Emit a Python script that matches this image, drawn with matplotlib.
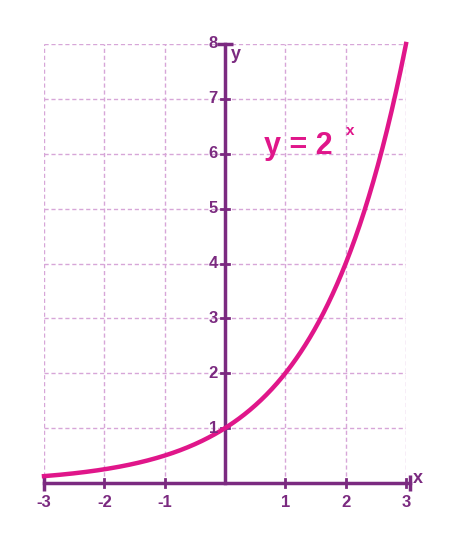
import numpy as np
import matplotlib
matplotlib.use("Agg")
import matplotlib.pyplot as plt

plt.rcParams['font.family'] = ['Liberation Sans', 'DejaVu Sans']

x_ticks = [-3, -2, -1, 1, 2, 3]
y_ticks = [1, 2, 3, 4, 5, 6, 7, 8]
base = 2
x_vals = np.linspace(-3, 3, 400)
y_vals = base ** x_vals

AX = '#7b2a80'
CURVE = '#e0168a'
GRID = '#d7a6d8'

fig = plt.figure(figsize=(4.66, 5.55), dpi=100)
ax = fig.add_axes([44/466, 72/555, 362/466, 439/555])
ax.set_xlim(-3, 3)
ax.set_ylim(0, 8)
for v in range(-3, 4):
    ax.axvline(v, color=GRID, ls=(0, (3, 2)), lw=1, zorder=0)
for v in range(1, 9):
    ax.axhline(v, color=GRID, ls=(0, (3, 2)), lw=1, zorder=0)
for s in ax.spines.values():
    s.set_visible(False)
ax.set_xticks([]); ax.set_yticks([])

ax.plot(x_vals, y_vals, color=CURVE, lw=3.2, zorder=3, clip_on=False)
ax.plot([-3, 3.07], [0, 0], color=AX, lw=2.5, clip_on=False, zorder=2)
ax.plot([3.07], [0], marker='|', ms=12, mew=2.5, color=AX, clip_on=False)
ax.plot([0, 0], [0, 8], color=AX, lw=2.5, clip_on=False, zorder=2)
ax.plot([0], [8], marker='_', ms=12, mew=2.5, color=AX, clip_on=False)
for t in x_ticks:
    ax.plot([t, t], [-0.08, 0.08], color=AX, lw=2, clip_on=False)
    ax.text(t, -0.22, str(t), color=AX, fontsize=12, fontweight='bold', ha='center', va='top')
for t in y_ticks:
    ax.plot([-0.07, 0.07], [t, t], color=AX, lw=2, clip_on=False)
    ax.text(-0.12, t, str(t), color=AX, fontsize=12, fontweight='bold', ha='right', va='center')
ax.plot([-3], [0], marker='|', ms=12, mew=2.5, color=AX, clip_on=False)
ax.text(3.12, 0.08, 'x', color=AX, fontsize=13, fontweight='bold', ha='left', va='center')
ax.text(0.1, 7.8, 'y', color=AX, fontsize=13, fontweight='bold', ha='left', va='center')
ax.text(0.65, 6.15, 'y = 2', color=CURVE, fontsize=22, fontweight='bold', ha='left', va='center')
ax.text(2.0, 6.42, 'x', color=CURVE, fontsize=11, fontweight='bold', ha='left', va='center')

fig.savefig('out.png', dpi=100, facecolor='white')
